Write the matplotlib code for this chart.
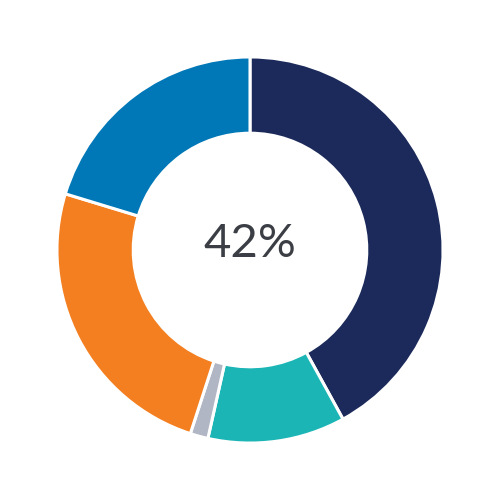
import matplotlib.pyplot as plt

# share of each segment, clockwise from 12 o'clock
segments = ['Navy', 'Teal', 'Grey', 'Orange', 'Blue']
shares = [42.0, 11.5, 1.5, 24.7, 20.3]
colors = ['#1b2a5a', '#1bb5b5', '#b0b6c3', '#f37f20', '#0077b6']
center_label = '42%'

fig = plt.figure(figsize=(5, 5), dpi=100)
ax = fig.add_axes([0, 0, 1, 1])

ax.pie(shares, colors=colors, startangle=90, counterclock=False,
       wedgeprops=dict(width=0.395, edgecolor='white', linewidth=2.2))

ax.text(0, 0.03, center_label, ha='center', va='center', fontsize=34,
        family=['Lato', 'DejaVu Sans'], color='#3b3e44')

ax.set_xlim(-1.295, 1.295)
ax.set_ylim(-1.295, 1.295)
ax.set_aspect('equal')
ax.axis('off')

fig.savefig('out.png', dpi=100, facecolor='white')
